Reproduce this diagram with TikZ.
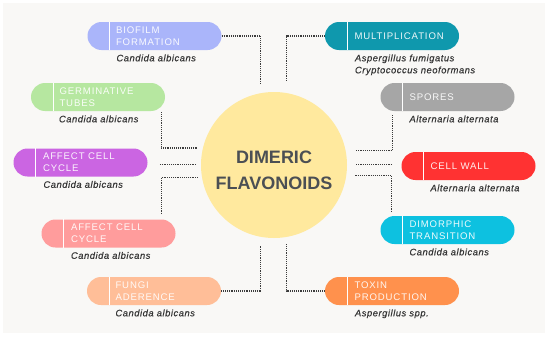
\documentclass[tikz,border=0pt]{standalone}
\usepackage{fontspec}
\setmainfont{Liberation Sans}
\newfontfamily\labfont{Liberation Sans}[LetterSpace=9]
\newfontfamily\specfont{Liberation Sans}[LetterSpace=6, FakeBold=0.35]
\usetikzlibrary{calc}
\definecolor{bgc}{HTML}{F9F8F6}
\definecolor{circ}{HTML}{FFE99E}
\definecolor{ctext}{HTML}{4B4F54}
\definecolor{stext}{HTML}{353535}
\definecolor{dots}{HTML}{3C3C3C}
\definecolor{cbio}{HTML}{AAB5FA}
\definecolor{cgerm}{HTML}{B6E7A0}
\definecolor{cpurp}{HTML}{CB65E2}
\definecolor{cpink}{HTML}{FF9C9C}
\definecolor{cfungi}{HTML}{FFBE98}
\definecolor{cmulti}{HTML}{0F98AD}
\definecolor{cspore}{HTML}{A6A6A6}
\definecolor{ccell}{HTML}{FF3232}
\definecolor{cdimo}{HTML}{0DC1E0}
\definecolor{ctoxin}{HTML}{FF914D}
\tikzset{
  pill/.style={draw=none, minimum width=100.5pt, minimum height=21pt, rounded corners=10.5pt, inner sep=0pt},
  divider/.style={draw=white, line width=0.9pt},
  lab/.style={anchor=west, align=left, inner sep=0pt, text=white, text opacity=0.92,
              font=\labfont\fontsize{7.2}{8.9}\selectfont},
  spec/.style={anchor=base west, align=left, inner sep=0pt, text=stext,
              font=\specfont\itshape\fontsize{7}{9}\selectfont},
  conn/.style={draw=dots, line width=0.8pt, dash pattern=on 0.7pt off 0.7pt},
}
\begin{document}
\begin{tikzpicture}[x=0.75pt, y=-0.75pt]
\useasboundingbox (0,0) rectangle (550,339);
\fill[white] (0,0) rectangle (550,339);
\fill[bgc] (3,3) rectangle (545,333);

% central circle
\node[circle, fill=circ, minimum size=109.5pt, inner sep=0pt] (hub) at (274,165) {};
\node[font=\fontsize{13.5}{19.5}\selectfont\bfseries, text=ctext, align=center, inner sep=0pt] (title) at (274,170) {DIMERIC\\FLAVONOIDS};

% left pills
\node[pill, fill=cbio] (bio) at (154.5,36) {};
\node[pill, fill=cgerm] (germ) at (98,97) {};
\node[pill, fill=cpurp] (purp) at (80.5,162.5) {};
\node[pill, fill=cpink] (pink) at (108.5,233.5) {};
\node[pill, fill=cfungi] (fungi) at (154,291) {};
% right pills
\node[pill, fill=cmulti] (multi) at (392,36) {};
\node[pill, fill=cspore] (spore) at (447.5,97) {};
\node[pill, fill=ccell] (cell) at (468.5,166) {};
\node[pill, fill=cdimo] (dimo) at (447.5,230) {};
\node[pill, fill=ctoxin] (toxin) at (392,291) {};

\foreach \p in {bio,germ,purp,pink,fungi,multi,spore,cell,dimo,toxin}{
  \draw[divider] ($(\p.north west)+(22.5,0)$) -- ($(\p.south west)+(22.5,0)$);
}

% labels
\node[lab] (tbio) at ($(bio.west)+(28.5,0)$) {BIOFILM\\FORMATION};
\node[lab] (tgerm) at ($(germ.west)+(28.5,0)$) {GERMINATIVE\\TUBES};
\node[lab] (tpurp) at ($(purp.west)+(29.5,0)$) {AFFECT CELL\\CYCLE};
\node[lab] (tpink) at ($(pink.west)+(29.5,0)$) {AFFECT CELL\\CYCLE};
\node[lab] (tfungi) at ($(fungi.west)+(28.5,0)$) {FUNGI\\ADERENCE};
\node[lab] (tmulti) at ($(multi.west)+(29.5,0)$) {MULTIPLICATION};
\node[lab] (tspore) at ($(spore.west)+(29,0)$) {SPORES};
\node[lab] (tcell) at ($(cell.west)+(29,0)$) {CELL WALL};
\node[lab] (tdimo) at ($(dimo.west)+(29,0)$) {DIMORPHIC\\TRANSITION};
\node[lab] (ttoxin) at ($(toxin.west)+(29.5,0)$) {TOXIN\\PRODUCTION};

% species
\node[spec] (sbio) at ($(bio.south west)+(29,11)$) {Candida albicans};
\node[spec] (sgerm) at ($(germ.south west)+(28,11)$) {Candida albicans};
\node[spec] (spurp) at ($(purp.south west)+(30,11)$) {Candida albicans};
\node[spec] (spink) at ($(pink.south west)+(29.5,11)$) {Candida albicans};
\node[spec] (sfungi) at ($(fungi.south west)+(28.5,11)$) {Candida albicans};
\node[spec] (smulti) at ($(multi.south west)+(30,23)$) {Aspergillus fumigatus\\Cryptococcus neoformans};
\node[spec] (sspore) at ($(spore.south west)+(29,11)$) {Alternaria alternata};
\node[spec] (scell) at ($(cell.south west)+(29,11)$) {Alternaria alternata};
\node[spec] (sdimo) at ($(dimo.south west)+(29,11)$) {Candida albicans};
\node[spec] (stoxin) at ($(toxin.south west)+(30,11)$) {Aspergillus spp.};

% connector ends near the hub
\coordinate (e1) at (260.5,84);
\coordinate (e2) at (198,148);
\coordinate (e3) at (196,164.5);
\coordinate (e4) at (198,177.3);
\coordinate (e5) at (260.5,246);
\coordinate (e6) at (286.7,81.7);
\coordinate (e7) at (356,150.7);
\coordinate (e8) at (356,164.5);
\coordinate (e9) at (355,175.7);
\coordinate (e10) at (286.7,244.3);

% connectors
\draw[conn] (bio.east) -| (e1);
\draw[conn] ($(germ.south east)+(-4,1)$) |- (e2);
\draw[conn] ($(purp.east)+(12,2)$) -- (e3);
\draw[conn] ($(pink.north east)+(-14.5,-5)$) |- (e4);
\draw[conn] (fungi.east) -| (e5);
\draw[conn] (multi.west) -| (e6);
\draw[conn] ($(spore.south west)+(12,4)$) |- (e7);
\draw[conn] ($(cell.west)+(-9,-1.5)$) -- (e8);
\draw[conn] ($(dimo.north west)+(11.5,-3.5)$) |- (e9);
\draw[conn] (toxin.west) -| (e10);
\end{tikzpicture}
\end{document}
